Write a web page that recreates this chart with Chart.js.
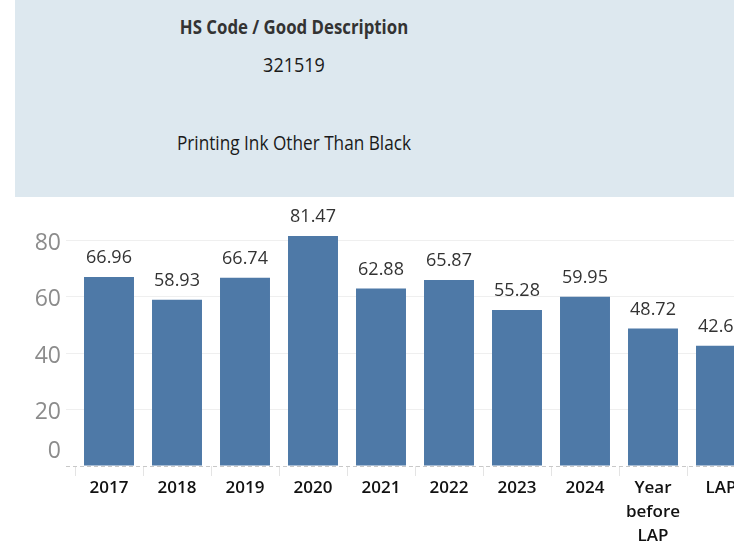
<!DOCTYPE html>
<html>
<head>
<meta charset="utf-8">
<script src="https://cdn.jsdelivr.net/npm/chart.js@4/dist/chart.umd.min.js"></script>
<style>
  html, body { margin: 0; padding: 0; width: 734px; height: 548px; overflow: hidden; background: #fff; }
  #header { position: absolute; left: 15px; top: 0; width: 719px; height: 197px; background: #dde8ef; }
  .ht { position: absolute; left: 0; width: 558px; text-align: center; color: #1a1a1a; font-family: "Open Sans", sans-serif; font-size: 20px; line-height: 28px; transform-origin: 50% 50%; }
  #t1 { top: 13px; font-weight: bold; color: #333; transform: scaleX(0.84); }
  #t2 { top: 51px; transform: scaleX(0.9); }
  #t3 { top: 129px; transform: scaleX(0.86); }
  #wrap { position: absolute; left: 0; top: 195px; width: 780px; height: 353px; }
</style>
</head>
<body>
<div id="header">
  <div class="ht" id="t1">HS Code / Good Description</div>
  <div class="ht" id="t2">321519</div>
  <div class="ht" id="t3">Printing Ink Other Than Black</div>
</div>
<div id="wrap"><canvas id="c"></canvas></div>
<script>
const categories = ["2017", "2018", "2019", "2020", "2021", "2022", "2023", "2024", ["Year", "before", "LAP"], "LAP"];
const values = [66.96, 58.93, 66.74, 81.47, 62.88, 65.87, 55.28, 59.95, 48.72, 42.62];
const yTicks = [0, 20, 40, 60, 80];

const overlay = {
  id: 'overlay',
  beforeDatasetsDraw(chart) {
    const ctx = chart.ctx, y = chart.scales.y, a = chart.chartArea;
    const py = Math.round(y.getPixelForValue(0)) + 0.5;
    ctx.save();
    ctx.strokeStyle = '#c8c8c8';
    ctx.lineWidth = 1;
    ctx.setLineDash([4, 3]);
    ctx.beginPath();
    ctx.moveTo(a.left - 9, py);
    ctx.lineTo(a.right, py);
    ctx.stroke();
    ctx.restore();
  },
  afterDraw(chart) {
    const ctx = chart.ctx, y = chart.scales.y, a = chart.chartArea;
    ctx.save();
    ctx.font = '23px "Open Sans", sans-serif';
    ctx.fillStyle = '#8c8c8c';
    ctx.textAlign = 'right';
    ctx.textBaseline = 'middle';
    yTicks.forEach(v => {
      const py = y.getPixelForValue(v) + (v === 0 ? -15 : 3);
      ctx.fillText(String(v), a.left - 14, py);
    });
    // value labels
    const meta = chart.getDatasetMeta(0);
    ctx.font = '18px "Open Sans", sans-serif';
    ctx.fillStyle = '#333';
    ctx.textAlign = 'center';
    meta.data.forEach((bar, i) => {
      ctx.fillText(values[i].toFixed(2), bar.x, bar.y - 19);
    });
    ctx.restore();
  }
};

new Chart(document.getElementById('c'), {
  type: 'bar',
  data: {
    labels: categories,
    datasets: [{
      data: values,
      backgroundColor: '#4e79a7',
      categoryPercentage: 0.735,
      barPercentage: 1.0
    }]
  },
  options: {
    responsive: true,
    maintainAspectRatio: false,
    animation: false,
    events: [],
    layout: { padding: { top: 17, right: 25, left: 0, bottom: 0 } },
    plugins: { legend: { display: false }, tooltip: { enabled: false } },
    scales: {
      x: {
        grid: { display: true, offset: true, drawOnChartArea: false, drawTicks: true, tickLength: 10, tickColor: '#e4e4e4' },
        border: { display: false },
        ticks: {
          color: '#111',
          padding: 0,
          maxRotation: 0,
          autoSkip: false,
          font: { family: '"Open Sans", sans-serif', size: 17, weight: '600', lineHeight: 1.42 }
        },
        afterFit(s) { s.height = 82; }
      },
      y: {
        min: 0,
        max: 90,
        afterBuildTicks(s) { s.ticks = yTicks.map(v => ({ value: v })); },
        grid: {
          color: ctx => (ctx.tick && ctx.tick.value === 0) ? 'rgba(0,0,0,0)' : '#efefef',
          tickColor: ctx => (ctx.tick && ctx.tick.value === 0) ? 'rgba(0,0,0,0)' : '#efefef',
          drawTicks: true,
          tickLength: 9
        },
        border: { display: false },
        ticks: { display: false },
        afterFit(s) { s.width = 75; }
      }
    }
  },
  plugins: [overlay]
});
</script>
</body>
</html>
